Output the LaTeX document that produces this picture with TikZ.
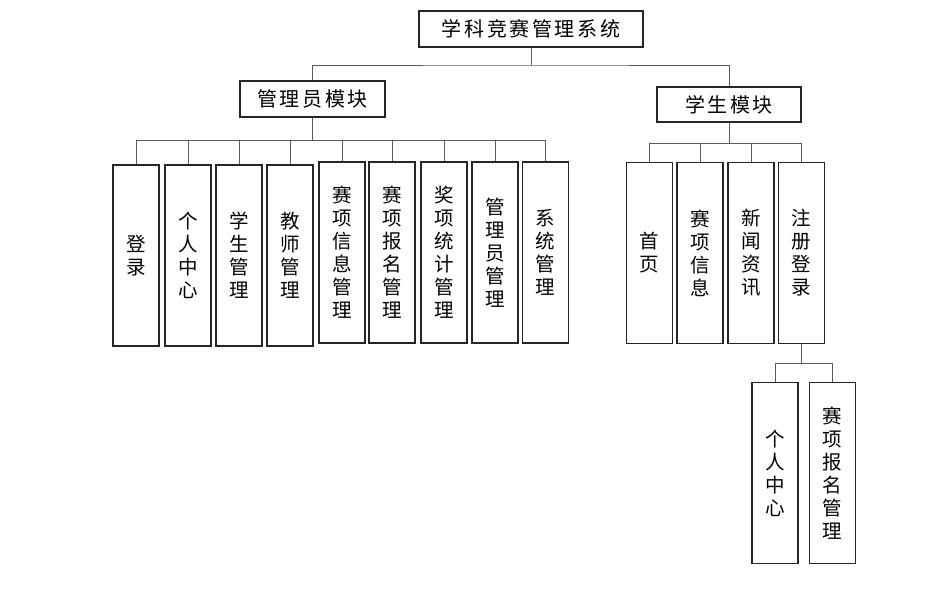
\documentclass[tikz,border=0pt]{standalone}
\usepackage{fontspec}
\newfontfamily\cjk{Noto Sans CJK SC}
\newcommand\gp{\hspace{2.6pt}}
\begin{document}
\begin{tikzpicture}[x=1pt,y=-1pt,
  box/.style={draw=black!85,line width=1.3pt,inner sep=0pt,fill=white},
  hbox/.style={box,font=\cjk\fontsize{20pt}{24pt}\selectfont},
  vbox/.style={box,minimum width=46pt,minimum height=181pt,align=center,
    font=\cjk\fontsize{19.5pt}{23pt}\selectfont},
  conn/.style={draw=black!65,line width=0.9pt}]
\useasboundingbox (0,0) rectangle (940,590);
% top levels
\node[hbox,minimum width=224pt,minimum height=36pt] (top) at (531,29) {学\gp 科\gp 竞\gp 赛\gp 管\gp 理\gp 系\gp 统};
\node[hbox,minimum width=145pt,minimum height=36pt] (admin) at (312.5,99) {管\gp 理\gp 员\gp 模\gp 块};
\node[hbox,minimum width=144pt,minimum height=35pt] (stu) at (729,104.5) {学\gp 生\gp 模\gp 块};
% admin children
\node[vbox] (a1) at (136,255.5) {登\\录};
\node[vbox] (a2) at (188,255.5) {个\\人\\中\\心};
\node[vbox] (a3) at (239,255.5) {学\\生\\管\\理};
\node[vbox] (a4) at (290,255.5) {教\\师\\管\\理};
\node[vbox] (a5) at (342,252.5) {赛\\项\\信\\息\\管\\理};
\node[vbox] (a6) at (392,252.5) {赛\\项\\报\\名\\管\\理};
\node[vbox] (a7) at (444,252.5) {奖\\项\\统\\计\\管\\理};
\node[vbox] (a8) at (495,252.5) {管\\理\\员\\管\\理};
\node[vbox] (a9) at (545.5,252.5) {系\\统\\管\\理};
% student children
\node[vbox] (s1) at (649.5,253) {首\\页};
\node[vbox] (s2) at (700,253) {赛\\项\\信\\息};
\node[vbox] (s3) at (751,253) {新\\闻\\资\\讯};
\node[vbox] (s4) at (801.5,253) {注\\册\\登\\录};
% sub children
\node[vbox] (r1) at (775,473) {个\\人\\中\\心};
\node[vbox] (r2) at (832.5,473) {赛\\项\\报\\名\\管\\理};
% bus coordinates
\coordinate (b0) at (531,65);
\coordinate (b1) at (312.5,140);
\coordinate (b2) at (729,143);
\coordinate (b3) at (801.5,363);
% connectors
\draw[conn] (top.south) -- (b0);
\draw[conn] (admin.north) |- (b0) -| (stu.north);
\draw[conn] (admin.south) -- (b1);
\foreach \n in {a1,a2,a3,a4,a5,a6,a7,a8,a9} \draw[conn] (b1) -| (\n.north);
\draw[conn] (stu.south) -- (b2);
\foreach \n in {s1,s2,s3,s4} \draw[conn] (b2) -| (\n.north);
\draw[conn] (s4.south) -- (b3);
\foreach \n in {r1,r2} \draw[conn] (b3) -| (\n.north);
\end{tikzpicture}
\end{document}
